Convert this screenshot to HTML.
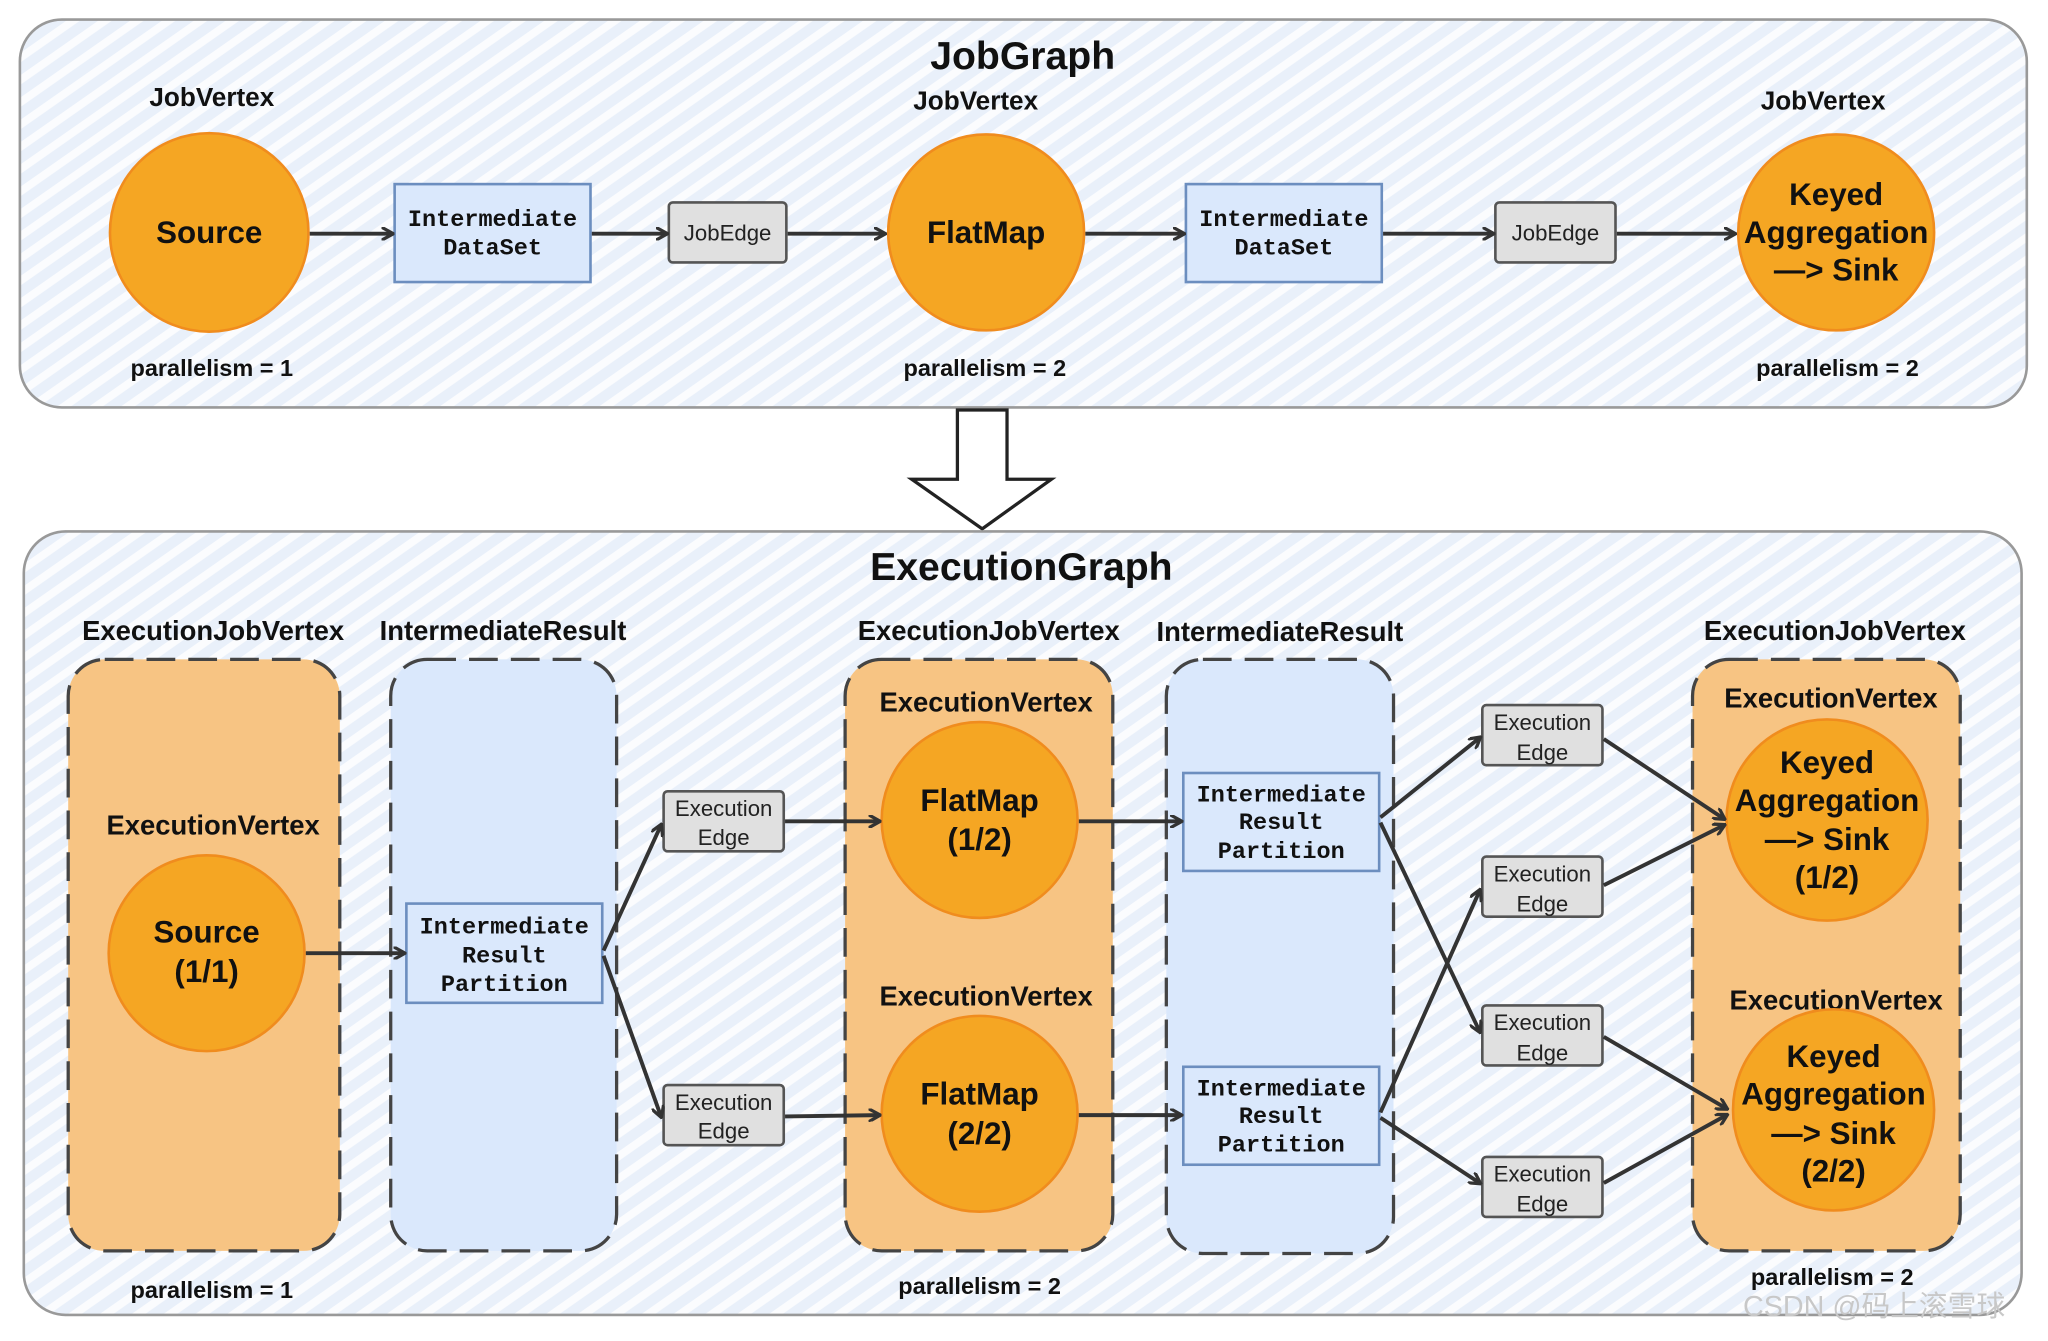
<!DOCTYPE html>
<html><head><meta charset="utf-8"><style>
html,body{margin:0;padding:0;background:#fff;}
svg{display:block}
.lb{font-family:"Liberation Sans",sans-serif;font-weight:bold;fill:#111;text-anchor:middle}
.mono{font-family:"Liberation Mono",monospace;font-weight:bold;fill:#111;text-anchor:middle;font-size:18px}
.edge{font-family:"Liberation Sans",sans-serif;fill:#222;text-anchor:middle;font-size:17px}
.ct{font-family:"Liberation Sans",sans-serif;font-weight:bold;fill:#111;text-anchor:middle;font-size:24px}
.ar{stroke:#333;stroke-width:3;fill:none;marker-end:url(#ah)}
</style></head><body>
<svg width="2048" height="1341" viewBox="0 0 1568 1027" xmlns="http://www.w3.org/2000/svg">
<defs>
<pattern id="hatch" patternUnits="userSpaceOnUse" width="14" height="14" patternTransform="rotate(-35)">
<rect width="14" height="14" fill="#e9f0fa"/><rect width="14" height="6" fill="#fbfcfe"/>
</pattern>
<marker id="ah" markerWidth="10" markerHeight="10" refX="8" refY="5" orient="auto" markerUnits="userSpaceOnUse">
<path d="M0,0 L9,5 L0,10" fill="none" stroke="#333" stroke-width="2.5"/>
</marker>
</defs>
<rect width="1568" height="1027" fill="#fff"/>
<rect x="15" y="15" width="1537" height="297" rx="32" fill="url(#hatch)" stroke="#999" stroke-width="2"/>
<text class="lb" x="783" y="53" font-size="30">JobGraph</text>
<text class="lb" x="162" y="81" font-size="20">JobVertex</text>
<text class="lb" x="747" y="84" font-size="20">JobVertex</text>
<text class="lb" x="1396" y="84" font-size="20">JobVertex</text>
<text class="lb" x="162" y="288" font-size="18">parallelism = 1</text>
<text class="lb" x="754" y="288" font-size="18">parallelism = 2</text>
<text class="lb" x="1407" y="288" font-size="18">parallelism = 2</text>
<circle cx="160" cy="178" r="76" fill="#f5a623" stroke="#f08c1e" stroke-width="2"/>
<text class="ct" x="160" y="186">Source</text>
<circle cx="755" cy="178" r="75" fill="#f5a623" stroke="#f08c1e" stroke-width="2"/>
<text class="ct" x="755" y="186">FlatMap</text>
<circle cx="1406" cy="178" r="75" fill="#f5a623" stroke="#f08c1e" stroke-width="2"/>
<text class="ct" x="1406" y="157">Keyed</text><text class="ct" x="1406" y="186">Aggregation</text><text class="ct" x="1406" y="215">—&gt; Sink</text>
<rect x="302" y="141" width="150" height="75" fill="#dae8fc" stroke="#6c8ebf" stroke-width="2"/>
<text class="mono" x="377" y="173">Intermediate</text><text class="mono" x="377" y="195">DataSet</text>
<rect x="908" y="141" width="150" height="75" fill="#dae8fc" stroke="#6c8ebf" stroke-width="2"/>
<text class="mono" x="983" y="173">Intermediate</text><text class="mono" x="983" y="195">DataSet</text>
<rect x="512" y="155" width="90" height="46" rx="3" fill="#e0e0e0" stroke="#555" stroke-width="2"/>
<text class="edge" x="557" y="184">JobEdge</text>
<rect x="1145" y="155" width="92" height="46" rx="3" fill="#e0e0e0" stroke="#555" stroke-width="2"/>
<text class="edge" x="1191" y="184">JobEdge</text>
<line class="ar" x1="237" y1="179" x2="300" y2="179"/>
<line class="ar" x1="453" y1="179" x2="510" y2="179"/>
<line class="ar" x1="603" y1="179" x2="677" y2="179"/>
<line class="ar" x1="831" y1="179" x2="906" y2="179"/>
<line class="ar" x1="1059" y1="179" x2="1143" y2="179"/>
<line class="ar" x1="1238" y1="179" x2="1328" y2="179"/>
<path d="M733,314 L771,314 L771,367 L805,367 L752,405 L698,367 L733,367 Z" fill="#fff" stroke="#222" stroke-width="2.5"/>
<rect x="18" y="407" width="1530" height="600" rx="32" fill="url(#hatch)" stroke="#999" stroke-width="2"/>
<text class="lb" x="782" y="444" font-size="30">ExecutionGraph</text>
<text class="lb" x="163" y="490" font-size="21">ExecutionJobVertex</text>
<text class="lb" x="385" y="490" font-size="21">IntermediateResult</text>
<text class="lb" x="757" y="490" font-size="21">ExecutionJobVertex</text>
<text class="lb" x="980" y="491" font-size="21">IntermediateResult</text>
<text class="lb" x="1405" y="490" font-size="21">ExecutionJobVertex</text>
<g stroke="#444" stroke-width="2.5" stroke-dasharray="22,10">
<rect x="52" y="505" width="208" height="453" rx="28" fill="#f7c483"/>
<rect x="299" y="505" width="173" height="453" rx="28" fill="#dae8fc"/>
<rect x="647" y="505" width="205" height="453" rx="28" fill="#f7c483"/>
<rect x="893" y="505" width="174" height="455" rx="28" fill="#dae8fc"/>
<rect x="1296" y="505" width="205" height="453" rx="28" fill="#f7c483"/>
</g>
<text class="lb" x="163" y="639" font-size="21">ExecutionVertex</text>
<text class="lb" x="755" y="545" font-size="21">ExecutionVertex</text>
<text class="lb" x="755" y="770" font-size="21">ExecutionVertex</text>
<text class="lb" x="1402" y="542" font-size="21">ExecutionVertex</text>
<text class="lb" x="1406" y="773" font-size="21">ExecutionVertex</text>
<circle cx="158" cy="730" r="75" fill="#f5a623" stroke="#f08c1e" stroke-width="2"/>
<text class="ct" x="158" y="722">Source</text><text class="ct" x="158" y="752">(1/1)</text>
<circle cx="750" cy="628" r="75" fill="#f5a623" stroke="#f08c1e" stroke-width="2"/>
<text class="ct" x="750" y="621">FlatMap</text><text class="ct" x="750" y="651">(1/2)</text>
<circle cx="750" cy="853" r="75" fill="#f5a623" stroke="#f08c1e" stroke-width="2"/>
<text class="ct" x="750" y="846">FlatMap</text><text class="ct" x="750" y="876">(2/2)</text>
<circle cx="1399" cy="628" r="77" fill="#f5a623" stroke="#f08c1e" stroke-width="2"/>
<text class="ct" x="1399" y="592">Keyed</text><text class="ct" x="1399" y="621">Aggregation</text><text class="ct" x="1399" y="651">—&gt; Sink</text><text class="ct" x="1399" y="680">(1/2)</text>
<circle cx="1404" cy="850" r="77" fill="#f5a623" stroke="#f08c1e" stroke-width="2"/>
<text class="ct" x="1404" y="817">Keyed</text><text class="ct" x="1404" y="846">Aggregation</text><text class="ct" x="1404" y="876">—&gt; Sink</text><text class="ct" x="1404" y="905">(2/2)</text>
<g fill="#dae8fc" stroke="#6c8ebf" stroke-width="2">
<rect x="311" y="692" width="150" height="76"/>
<rect x="906" y="592" width="150" height="75"/>
<rect x="906" y="817" width="150" height="75"/>
</g>
<text class="mono" x="386" y="715">Intermediate</text><text class="mono" x="386" y="737">Result</text><text class="mono" x="386" y="759">Partition</text>
<text class="mono" x="981" y="614">Intermediate</text><text class="mono" x="981" y="635">Result</text><text class="mono" x="981" y="657">Partition</text>
<text class="mono" x="981" y="839">Intermediate</text><text class="mono" x="981" y="860">Result</text><text class="mono" x="981" y="882">Partition</text>
<g fill="#e0e0e0" stroke="#555" stroke-width="2">
<rect x="508" y="606" width="92" height="46" rx="3"/>
<rect x="508" y="831" width="92" height="46" rx="3"/>
<rect x="1135" y="540" width="92" height="46" rx="3"/>
<rect x="1135" y="656" width="92" height="46" rx="3"/>
<rect x="1135" y="770" width="92" height="46" rx="3"/>
<rect x="1135" y="886" width="92" height="46" rx="3"/>
</g>
<text class="edge" x="554" y="625">Execution</text><text class="edge" x="554" y="647">Edge</text>
<text class="edge" x="554" y="850">Execution</text><text class="edge" x="554" y="872">Edge</text>
<text class="edge" x="1181" y="559">Execution</text><text class="edge" x="1181" y="582">Edge</text>
<text class="edge" x="1181" y="675">Execution</text><text class="edge" x="1181" y="698">Edge</text>
<text class="edge" x="1181" y="789">Execution</text><text class="edge" x="1181" y="812">Edge</text>
<text class="edge" x="1181" y="905">Execution</text><text class="edge" x="1181" y="928">Edge</text>
<line class="ar" x1="234" y1="730" x2="309" y2="730"/>
<line class="ar" x1="462" y1="728" x2="506" y2="632"/>
<line class="ar" x1="462" y1="732" x2="506" y2="855"/>
<line class="ar" x1="601" y1="629" x2="673" y2="629"/>
<line class="ar" x1="601" y1="855" x2="673" y2="854"/>
<line class="ar" x1="826" y1="629" x2="904" y2="629"/>
<line class="ar" x1="826" y1="854" x2="904" y2="854"/>
<line class="ar" x1="1057" y1="626" x2="1133" y2="565"/>
<line class="ar" x1="1057" y1="630" x2="1133" y2="790"/>
<line class="ar" x1="1057" y1="852" x2="1133" y2="682"/>
<line class="ar" x1="1057" y1="856" x2="1133" y2="906"/>
<line class="ar" x1="1228" y1="566" x2="1320" y2="627"/>
<line class="ar" x1="1228" y1="678" x2="1320" y2="632"/>
<line class="ar" x1="1228" y1="794" x2="1322" y2="849"/>
<line class="ar" x1="1228" y1="906" x2="1322" y2="854"/>
<text class="lb" x="162" y="994" font-size="18">parallelism = 1</text>
<text class="lb" x="750" y="991" font-size="18">parallelism = 2</text>
<text class="lb" x="1403" y="984" font-size="18">parallelism = 2</text>
<text x="1435" y="1008" font-family="Liberation Sans, 'Noto Sans CJK SC', sans-serif" font-size="22" fill="#c8c8c8" text-anchor="middle">CSDN @码上滚雪球</text>
</svg>
</body></html>
